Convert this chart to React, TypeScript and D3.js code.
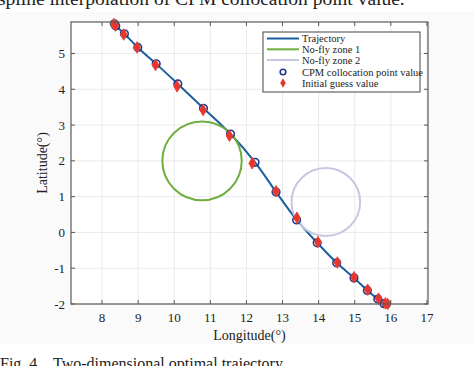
import React, { useRef, useEffect } from "react";
import * as d3 from "d3";

// axis ticks
const lonTicks = [8, 9, 10, 11, 12, 13, 14, 15, 16, 17];
const latTicks = [-2, -1, 0, 1, 2, 3, 4, 5];

// CPM collocation points (trajectory)
const cpmLon = [8.34, 8.38, 8.62, 8.99, 9.5, 10.1, 10.81, 11.56, 12.24, 12.82, 13.39, 13.96, 14.5, 14.98, 15.35, 15.64, 15.81, 15.88];
const cpmLat = [5.83, 5.77, 5.55, 5.17, 4.71, 4.15, 3.47, 2.75, 1.96, 1.13, 0.35, -0.29, -0.85, -1.27, -1.62, -1.86, -1.99, -2.0];

// initial guess
const guessLon = [8.33, 8.37, 8.6, 8.97, 9.48, 10.08, 10.8, 11.53, 12.16, 12.82, 13.4, 13.98, 14.52, 14.98, 15.36, 15.66, 15.85, 15.91];
const guessLat = [5.82, 5.78, 5.53, 5.17, 4.68, 4.08, 3.42, 2.7, 1.93, 1.15, 0.41, -0.27, -0.84, -1.25, -1.6, -1.85, -1.98, -2.0];

// no-fly zones
const zoneNames = ["No-fly zone 1", "No-fly zone 2"];
const zoneCenters = [[10.77, 2.0], [14.2, 0.85]];
const zoneRadius = [1.1, 0.95];
const zoneColors = ["#6fae3e", "#c6c8e2"];

const W = 474;
const H = 366;

const App = () => {
  const ref = useRef<SVGSVGElement | null>(null);

  useEffect(() => {
    if (!ref.current) return;
    const svg = d3.select(ref.current);
    svg.selectAll("*").remove();

    const serif = "'Liberation Serif', 'DejaVu Serif', serif";
    const left = 71, right = 428, top = 22, bottom = 304;

    const x = d3.scaleLinear().domain([7.14, 17.03]).range([left, right]);
    const y = d3.scaleLinear().domain([-2.0, 5.88]).range([bottom, top]);

    // figure background
    svg.append("rect").attr("x", 0).attr("y", 0).attr("width", W).attr("height", H).attr("fill", "#fff");
    svg.append("rect").attr("x", 0).attr("y", 12).attr("width", W).attr("height", 332).attr("fill", "#fafafa");

    // paper text around the figure (cut by the crop, as in the source)
    svg.append("text").attr("x", -2).attr("y", 5)
      .style("font-family", serif).style("font-size", "19.5px").attr("fill", "#222")
      .text("spline interpolation of CPM collocation point value.");
    svg.append("text").attr("x", 0).attr("y", 369)
      .style("font-family", serif).style("font-size", "16px").attr("fill", "#222")
      .text("Fig. 4");
    svg.append("text").attr("x", 53).attr("y", 369)
      .style("font-family", serif).style("font-size", "16px").attr("fill", "#222")
      .text("Two-dimensional optimal trajectory");

    svg.append("rect").attr("x", left).attr("y", top).attr("width", right - left).attr("height", bottom - top).attr("fill", "#fff");

    // grid
    const g = svg.append("g");
    lonTicks.forEach((t) => {
      g.append("line").attr("x1", x(t)).attr("x2", x(t)).attr("y1", top).attr("y2", bottom)
        .attr("stroke", "#e4e4e4").attr("stroke-width", 0.8);
    });
    latTicks.forEach((t) => {
      g.append("line").attr("x1", left).attr("x2", right).attr("y1", y(t)).attr("y2", y(t))
        .attr("stroke", "#e4e4e4").attr("stroke-width", 0.8);
    });

    svg.append("clipPath").attr("id", "plotclip").append("rect")
      .attr("x", left).attr("y", top - 6).attr("width", right - left).attr("height", bottom - top + 12);
    const plot = svg.append("g").attr("clip-path", "url(#plotclip)");

    // trajectory
    const pts = cpmLon.map((d, i) => [d, cpmLat[i]] as [number, number]);
    const line = d3.line<[number, number]>().x((d) => x(d[0])).y((d) => y(d[1])).curve(d3.curveCatmullRom);
    plot.append("path").datum(pts).attr("d", line).attr("fill", "none")
      .attr("stroke", "#1b5f9e").attr("stroke-width", 2);

    // no-fly zones
    zoneCenters.forEach((c, i) => {
      plot.append("ellipse")
        .attr("cx", x(c[0])).attr("cy", y(c[1]))
        .attr("rx", x(c[0] + zoneRadius[i]) - x(c[0]))
        .attr("ry", y(c[1]) - y(c[1] + zoneRadius[i]))
        .attr("fill", "none").attr("stroke", zoneColors[i]).attr("stroke-width", 2);
    });

    // CPM points
    pts.forEach((d) => {
      plot.append("circle").attr("cx", x(d[0])).attr("cy", y(d[1])).attr("r", 3.8)
        .attr("fill", "none").attr("stroke", "#1f3a8c").attr("stroke-width", 1.6);
    });
    // initial guess diamonds
    const diamond = d3.symbol().type(d3.symbolDiamond).size(38);
    guessLon.forEach((d, i) => {
      plot.append("path").attr("d", diamond).attr("transform", `translate(${x(d)},${y(guessLat[i])})`)
        .attr("fill", "#e8352c").attr("stroke", "#ee4436").attr("stroke-width", 1).attr("stroke-linejoin", "round");
    });

    // axes box + inward ticks
    svg.append("rect").attr("x", left).attr("y", top).attr("width", right - left).attr("height", bottom - top)
      .attr("fill", "none").attr("stroke", "#5a5a5a").attr("stroke-width", 1.2);
    lonTicks.forEach((t) => {
      svg.append("line").attr("x1", x(t)).attr("x2", x(t)).attr("y1", bottom).attr("y2", bottom - 4).attr("stroke", "#5a5a5a");
      svg.append("line").attr("x1", x(t)).attr("x2", x(t)).attr("y1", top).attr("y2", top + 4).attr("stroke", "#5a5a5a");
      svg.append("text").attr("x", x(t)).attr("y", bottom + 18).attr("text-anchor", "middle")
        .style("font-family", serif).style("font-size", "13px").attr("fill", "#222").text(t);
    });
    latTicks.forEach((t) => {
      svg.append("line").attr("x1", left).attr("x2", left + 4).attr("y1", y(t)).attr("y2", y(t)).attr("stroke", "#5a5a5a");
      svg.append("line").attr("x1", right).attr("x2", right - 4).attr("y1", y(t)).attr("y2", y(t)).attr("stroke", "#5a5a5a");
      svg.append("text").attr("x", left - 6).attr("y", y(t) + 4.5).attr("text-anchor", "end")
        .style("font-family", serif).style("font-size", "13px").attr("fill", "#222").text(t);
    });

    // axis labels
    svg.append("text").attr("x", (left + right) / 2).attr("y", 340).attr("text-anchor", "middle")
      .style("font-family", serif).style("font-size", "14px").attr("fill", "#222").text("Longitude(°)");
    svg.append("text").attr("transform", `translate(47,${(top + bottom) / 2}) rotate(-90)`).attr("text-anchor", "middle")
      .style("font-family", serif).style("font-size", "14px").attr("fill", "#222").text("Latitude(°)");

    // legend
    const lg = svg.append("g");
    lg.append("rect").attr("x", 263).attr("y", 32).attr("width", 157).attr("height", 60)
      .attr("fill", "#fff").attr("stroke", "#444").attr("stroke-width", 1);
    const rows = [38.5, 49.3, 60, 72, 83];
    const labels = ["Trajectory", ...zoneNames, "CPM collocation point value", "Initial guess value"];
    const lineColors = ["#1b5f9e", zoneColors[0], zoneColors[1]];
    labels.forEach((lab, i) => {
      if (i < 3) {
        lg.append("line").attr("x1", 267).attr("x2", 299).attr("y1", rows[i]).attr("y2", rows[i])
          .attr("stroke", lineColors[i]).attr("stroke-width", 2);
      } else if (i === 3) {
        lg.append("circle").attr("cx", 283).attr("cy", rows[i]).attr("r", 2.8)
          .attr("fill", "none").attr("stroke", "#1f3a8c").attr("stroke-width", 1.6);
      } else {
        lg.append("path").attr("d", d3.symbol().type(d3.symbolDiamond).size(26))
          .attr("transform", `translate(283,${rows[i]})`).attr("fill", "#e8352c");
      }
      lg.append("text").attr("x", 302).attr("y", rows[i] + 3.5)
        .style("font-family", serif).style("font-size", "10.5px").attr("fill", "#222").text(lab);
    });
  }, []);

  return (
    <svg
      ref={ref}
      width={W}
      height={H}
      style={{ position: "absolute", left: 0, top: 0, display: "block" }}
    />
  );
};

export default App;
